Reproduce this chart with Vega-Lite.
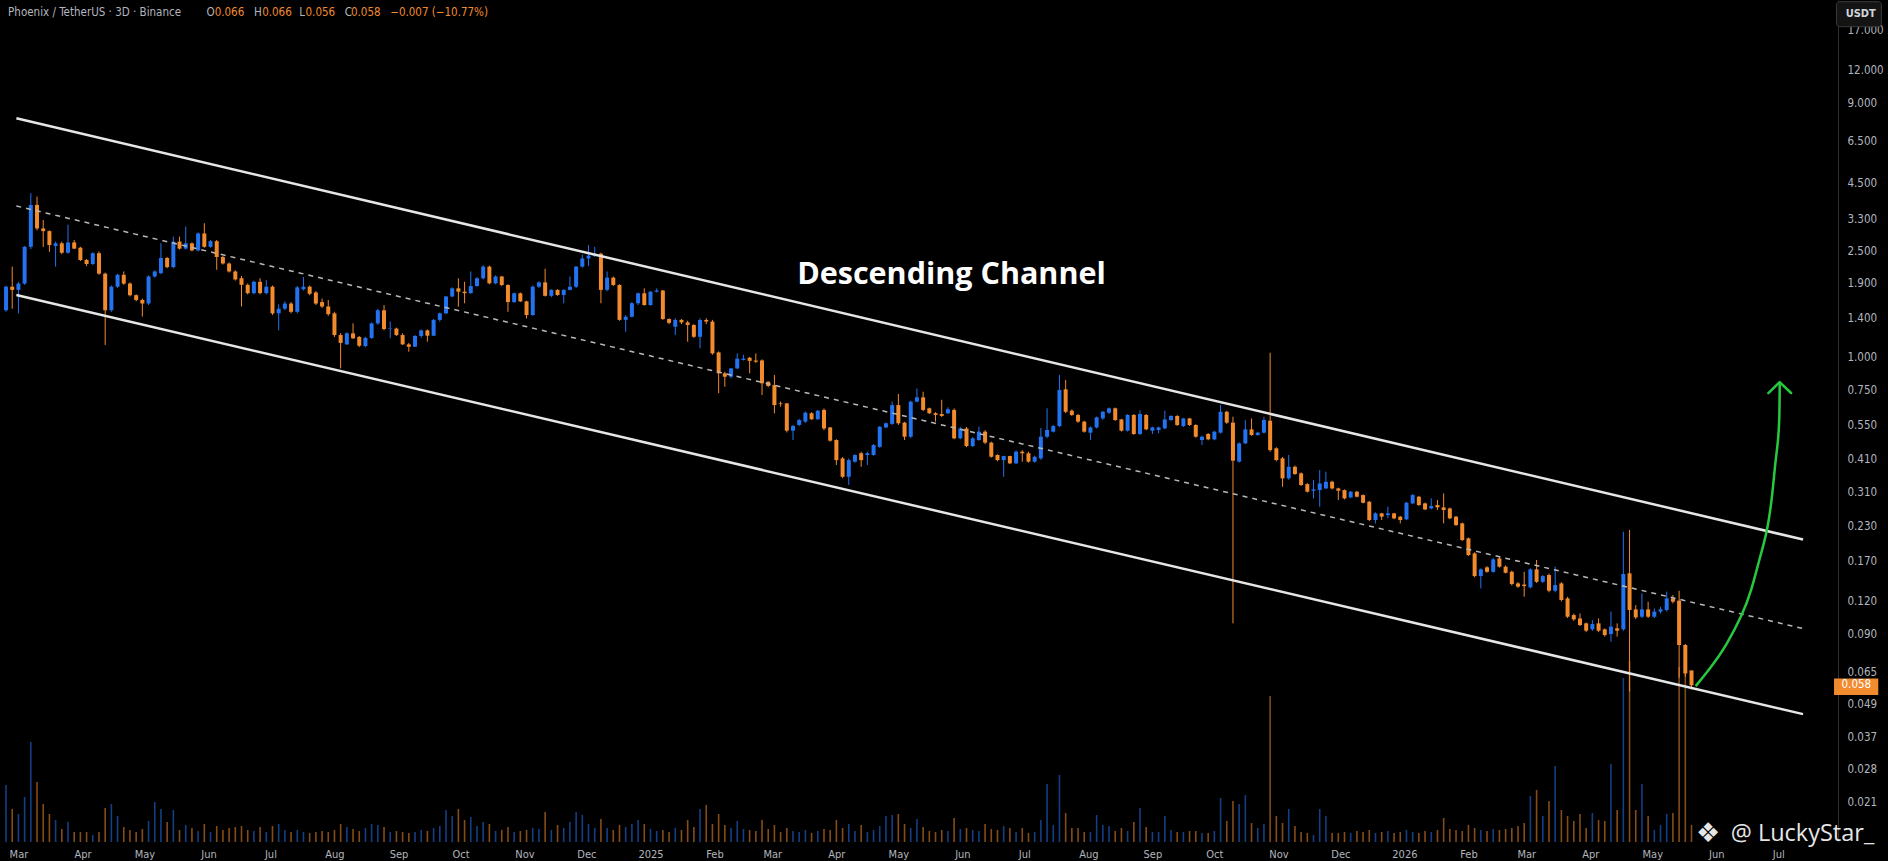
{
  "$schema": "https://vega.github.io/schema/vega-lite/v6.json",
  "width": 1838,
  "height": 842,
  "autosize": {"type": "none"},
  "padding": {"left": 0, "top": 0, "right": 50, "bottom": 19},
  "background": "#000000",
  "config": {
    "view": {"stroke": null},
    "style": {
      "hdr": {"font": "Liberation Sans Narrow, DejaVu Sans Condensed, sans-serif", "fontSize": 11.5, "align": "left", "baseline": "middle"}
    }
  },
  "datasets": {
    "candles": [
      {"d":"2024-02-24","o":1.50,"h":1.86,"l":1.48,"c":1.84,"v":57},
      {"d":"2024-02-27","o":1.84,"h":2.19,"l":1.52,"c":1.79,"v":33},
      {"d":"2024-03-01","o":1.79,"h":1.92,"l":1.46,"c":1.89,"v":28},
      {"d":"2024-03-04","o":1.89,"h":2.62,"l":1.87,"c":2.60,"v":45},
      {"d":"2024-03-07","o":2.60,"h":4.14,"l":2.55,"c":3.74,"v":100},
      {"d":"2024-03-10","o":3.74,"h":4.02,"l":3.00,"c":3.05,"v":60},
      {"d":"2024-03-13","o":3.05,"h":3.28,"l":2.60,"c":2.98,"v":38},
      {"d":"2024-03-16","o":2.98,"h":3.00,"l":2.49,"c":2.64,"v":28},
      {"d":"2024-03-19","o":2.62,"h":2.72,"l":2.19,"c":2.68,"v":22},
      {"d":"2024-03-22","o":2.68,"h":2.72,"l":2.44,"c":2.47,"v":13},
      {"d":"2024-03-25","o":2.47,"h":3.15,"l":2.45,"c":2.70,"v":20},
      {"d":"2024-03-28","o":2.70,"h":2.76,"l":2.55,"c":2.56,"v":10},
      {"d":"2024-03-31","o":2.58,"h":2.60,"l":2.30,"c":2.32,"v":10},
      {"d":"2024-04-03","o":2.32,"h":2.34,"l":2.20,"c":2.24,"v":10},
      {"d":"2024-04-06","o":2.24,"h":2.48,"l":2.22,"c":2.46,"v":7},
      {"d":"2024-04-09","o":2.46,"h":2.50,"l":2.04,"c":2.06,"v":10},
      {"d":"2024-04-12","o":2.06,"h":2.08,"l":1.11,"c":1.50,"v":34},
      {"d":"2024-04-15","o":1.50,"h":1.86,"l":1.48,"c":1.84,"v":38},
      {"d":"2024-04-18","o":1.84,"h":2.06,"l":1.82,"c":2.04,"v":26},
      {"d":"2024-04-21","o":2.04,"h":2.10,"l":1.87,"c":1.89,"v":15},
      {"d":"2024-04-24","o":1.89,"h":1.91,"l":1.69,"c":1.71,"v":12},
      {"d":"2024-04-27","o":1.71,"h":1.72,"l":1.62,"c":1.64,"v":10},
      {"d":"2024-04-30","o":1.64,"h":1.66,"l":1.42,"c":1.59,"v":13},
      {"d":"2024-05-03","o":1.59,"h":2.03,"l":1.57,"c":2.01,"v":21},
      {"d":"2024-05-06","o":2.01,"h":2.12,"l":1.99,"c":2.10,"v":40},
      {"d":"2024-05-09","o":2.07,"h":2.68,"l":2.05,"c":2.36,"v":33},
      {"d":"2024-05-12","o":2.36,"h":2.38,"l":2.16,"c":2.18,"v":20},
      {"d":"2024-05-15","o":2.18,"h":2.84,"l":2.16,"c":2.72,"v":32},
      {"d":"2024-05-18","o":2.72,"h":2.84,"l":2.54,"c":2.56,"v":12},
      {"d":"2024-05-21","o":2.56,"h":3.10,"l":2.54,"c":2.68,"v":17},
      {"d":"2024-05-24","o":2.68,"h":2.70,"l":2.50,"c":2.52,"v":14},
      {"d":"2024-05-27","o":2.52,"h":2.95,"l":2.50,"c":2.92,"v":11},
      {"d":"2024-05-30","o":2.92,"h":3.19,"l":2.58,"c":2.60,"v":18},
      {"d":"2024-06-02","o":2.60,"h":2.76,"l":2.58,"c":2.73,"v":10},
      {"d":"2024-06-05","o":2.73,"h":2.76,"l":2.13,"c":2.38,"v":16},
      {"d":"2024-06-08","o":2.38,"h":2.40,"l":2.23,"c":2.25,"v":12},
      {"d":"2024-06-11","o":2.25,"h":2.27,"l":2.08,"c":2.10,"v":14},
      {"d":"2024-06-14","o":2.10,"h":2.12,"l":1.94,"c":1.96,"v":15},
      {"d":"2024-06-17","o":1.98,"h":2.02,"l":1.55,"c":1.87,"v":16},
      {"d":"2024-06-20","o":1.87,"h":1.89,"l":1.72,"c":1.74,"v":12},
      {"d":"2024-06-23","o":1.74,"h":1.94,"l":1.72,"c":1.92,"v":11},
      {"d":"2024-06-26","o":1.92,"h":1.98,"l":1.72,"c":1.74,"v":15},
      {"d":"2024-06-29","o":1.74,"h":1.95,"l":1.72,"c":1.84,"v":10},
      {"d":"2024-07-02","o":1.84,"h":1.86,"l":1.44,"c":1.46,"v":16},
      {"d":"2024-07-05","o":1.46,"h":1.58,"l":1.26,"c":1.52,"v":18},
      {"d":"2024-07-08","o":1.52,"h":1.62,"l":1.50,"c":1.59,"v":12},
      {"d":"2024-07-11","o":1.59,"h":1.61,"l":1.46,"c":1.48,"v":10},
      {"d":"2024-07-14","o":1.48,"h":1.85,"l":1.46,"c":1.83,"v":12},
      {"d":"2024-07-17","o":1.80,"h":2.00,"l":1.78,"c":1.84,"v":10},
      {"d":"2024-07-20","o":1.84,"h":1.86,"l":1.71,"c":1.73,"v":9},
      {"d":"2024-07-23","o":1.75,"h":1.77,"l":1.57,"c":1.59,"v":10},
      {"d":"2024-07-26","o":1.61,"h":1.66,"l":1.53,"c":1.55,"v":11},
      {"d":"2024-07-29","o":1.55,"h":1.64,"l":1.43,"c":1.45,"v":10},
      {"d":"2024-08-01","o":1.46,"h":1.48,"l":1.19,"c":1.21,"v":12},
      {"d":"2024-08-04","o":1.21,"h":1.23,"l":0.906,"c":1.13,"v":18},
      {"d":"2024-08-07","o":1.116,"h":1.24,"l":1.11,"c":1.228,"v":15},
      {"d":"2024-08-10","o":1.228,"h":1.339,"l":1.17,"c":1.176,"v":13},
      {"d":"2024-08-13","o":1.19,"h":1.20,"l":1.09,"c":1.103,"v":11},
      {"d":"2024-08-16","o":1.10,"h":1.19,"l":1.09,"c":1.18,"v":14},
      {"d":"2024-08-19","o":1.18,"h":1.35,"l":1.17,"c":1.339,"v":18},
      {"d":"2024-08-22","o":1.339,"h":1.52,"l":1.32,"c":1.50,"v":17},
      {"d":"2024-08-25","o":1.50,"h":1.57,"l":1.26,"c":1.275,"v":15},
      {"d":"2024-08-28","o":1.275,"h":1.36,"l":1.176,"c":1.28,"v":10},
      {"d":"2024-08-31","o":1.28,"h":1.29,"l":1.20,"c":1.21,"v":11},
      {"d":"2024-09-03","o":1.21,"h":1.23,"l":1.11,"c":1.116,"v":10},
      {"d":"2024-09-06","o":1.116,"h":1.13,"l":1.047,"c":1.093,"v":9},
      {"d":"2024-09-09","o":1.093,"h":1.21,"l":1.09,"c":1.20,"v":10},
      {"d":"2024-09-12","o":1.20,"h":1.27,"l":1.18,"c":1.26,"v":12},
      {"d":"2024-09-15","o":1.26,"h":1.27,"l":1.142,"c":1.203,"v":11},
      {"d":"2024-09-18","o":1.203,"h":1.39,"l":1.20,"c":1.38,"v":14},
      {"d":"2024-09-21","o":1.38,"h":1.47,"l":1.36,"c":1.46,"v":16},
      {"d":"2024-09-24","o":1.46,"h":1.70,"l":1.45,"c":1.69,"v":32},
      {"d":"2024-09-27","o":1.69,"h":1.83,"l":1.68,"c":1.814,"v":26},
      {"d":"2024-09-30","o":1.814,"h":1.979,"l":1.547,"c":1.762,"v":33},
      {"d":"2024-10-03","o":1.762,"h":1.92,"l":1.594,"c":1.74,"v":22},
      {"d":"2024-10-06","o":1.74,"h":2.10,"l":1.73,"c":1.85,"v":25},
      {"d":"2024-10-09","o":1.85,"h":2.00,"l":1.84,"c":1.979,"v":16},
      {"d":"2024-10-12","o":1.979,"h":2.22,"l":1.96,"c":2.19,"v":20},
      {"d":"2024-10-15","o":2.19,"h":2.21,"l":1.88,"c":1.895,"v":18},
      {"d":"2024-10-18","o":1.895,"h":2.03,"l":1.88,"c":2.01,"v":11},
      {"d":"2024-10-21","o":2.01,"h":2.02,"l":1.85,"c":1.867,"v":12},
      {"d":"2024-10-24","o":1.867,"h":1.88,"l":1.48,"c":1.61,"v":15},
      {"d":"2024-10-27","o":1.61,"h":1.75,"l":1.60,"c":1.738,"v":10},
      {"d":"2024-10-30","o":1.738,"h":1.75,"l":1.61,"c":1.62,"v":11},
      {"d":"2024-11-02","o":1.62,"h":1.63,"l":1.398,"c":1.439,"v":12},
      {"d":"2024-11-05","o":1.439,"h":1.86,"l":1.43,"c":1.84,"v":14},
      {"d":"2024-11-08","o":1.84,"h":1.93,"l":1.82,"c":1.91,"v":13},
      {"d":"2024-11-11","o":1.91,"h":2.15,"l":1.69,"c":1.70,"v":30},
      {"d":"2024-11-14","o":1.70,"h":1.80,"l":1.68,"c":1.79,"v":12},
      {"d":"2024-11-17","o":1.79,"h":1.80,"l":1.70,"c":1.712,"v":17},
      {"d":"2024-11-20","o":1.712,"h":1.80,"l":1.594,"c":1.79,"v":14},
      {"d":"2024-11-23","o":1.79,"h":2.01,"l":1.78,"c":1.84,"v":20},
      {"d":"2024-11-26","o":1.84,"h":2.20,"l":1.82,"c":2.19,"v":30},
      {"d":"2024-11-29","o":2.19,"h":2.43,"l":2.17,"c":2.35,"v":27},
      {"d":"2024-12-02","o":2.35,"h":2.64,"l":2.20,"c":2.41,"v":18},
      {"d":"2024-12-05","o":2.41,"h":2.60,"l":2.38,"c":2.45,"v":14},
      {"d":"2024-12-08","o":2.45,"h":2.47,"l":1.594,"c":1.79,"v":23},
      {"d":"2024-12-11","o":1.79,"h":2.10,"l":1.77,"c":1.99,"v":14},
      {"d":"2024-12-14","o":1.99,"h":2.01,"l":1.85,"c":1.867,"v":12},
      {"d":"2024-12-17","o":1.867,"h":1.88,"l":1.37,"c":1.38,"v":17},
      {"d":"2024-12-20","o":1.38,"h":1.44,"l":1.245,"c":1.418,"v":15},
      {"d":"2024-12-23","o":1.418,"h":1.61,"l":1.41,"c":1.594,"v":18},
      {"d":"2024-12-26","o":1.594,"h":1.75,"l":1.57,"c":1.738,"v":22},
      {"d":"2024-12-29","o":1.738,"h":1.814,"l":1.56,"c":1.57,"v":18},
      {"d":"2025-01-01","o":1.57,"h":1.77,"l":1.56,"c":1.762,"v":13},
      {"d":"2025-01-04","o":1.762,"h":1.814,"l":1.75,"c":1.78,"v":11},
      {"d":"2025-01-07","o":1.78,"h":1.79,"l":1.38,"c":1.39,"v":12},
      {"d":"2025-01-10","o":1.39,"h":1.40,"l":1.33,"c":1.345,"v":10},
      {"d":"2025-01-13","o":1.30,"h":1.40,"l":1.21,"c":1.38,"v":14},
      {"d":"2025-01-16","o":1.38,"h":1.39,"l":1.33,"c":1.35,"v":12},
      {"d":"2025-01-19","o":1.35,"h":1.37,"l":1.142,"c":1.32,"v":22},
      {"d":"2025-01-22","o":1.32,"h":1.33,"l":1.18,"c":1.192,"v":15},
      {"d":"2025-01-25","o":1.192,"h":1.40,"l":1.078,"c":1.379,"v":33},
      {"d":"2025-01-28","o":1.379,"h":1.40,"l":1.33,"c":1.36,"v":37},
      {"d":"2025-01-31","o":1.36,"h":1.38,"l":1.02,"c":1.032,"v":18},
      {"d":"2025-02-03","o":1.041,"h":1.05,"l":0.73,"c":0.868,"v":28},
      {"d":"2025-02-06","o":0.868,"h":0.88,"l":0.773,"c":0.843,"v":17},
      {"d":"2025-02-09","o":0.843,"h":0.91,"l":0.83,"c":0.906,"v":14},
      {"d":"2025-02-12","o":0.906,"h":1.032,"l":0.90,"c":0.986,"v":21},
      {"d":"2025-02-15","o":0.975,"h":1.02,"l":0.97,"c":0.986,"v":13},
      {"d":"2025-02-18","o":0.994,"h":1.00,"l":0.868,"c":0.967,"v":12},
      {"d":"2025-02-21","o":0.97,"h":1.032,"l":0.95,"c":0.96,"v":11},
      {"d":"2025-02-24","o":0.971,"h":0.98,"l":0.719,"c":0.796,"v":22},
      {"d":"2025-02-27","o":0.807,"h":0.81,"l":0.77,"c":0.778,"v":13},
      {"d":"2025-03-02","o":0.784,"h":0.856,"l":0.614,"c":0.659,"v":17},
      {"d":"2025-03-05","o":0.669,"h":0.68,"l":0.65,"c":0.665,"v":10},
      {"d":"2025-03-08","o":0.669,"h":0.67,"l":0.52,"c":0.528,"v":14},
      {"d":"2025-03-11","o":0.528,"h":0.555,"l":0.487,"c":0.550,"v":11},
      {"d":"2025-03-14","o":0.555,"h":0.585,"l":0.55,"c":0.579,"v":10},
      {"d":"2025-03-17","o":0.571,"h":0.623,"l":0.565,"c":0.617,"v":12},
      {"d":"2025-03-20","o":0.614,"h":0.62,"l":0.58,"c":0.583,"v":9},
      {"d":"2025-03-23","o":0.583,"h":0.632,"l":0.58,"c":0.628,"v":11},
      {"d":"2025-03-26","o":0.632,"h":0.64,"l":0.53,"c":0.538,"v":13},
      {"d":"2025-03-29","o":0.543,"h":0.545,"l":0.48,"c":0.484,"v":12},
      {"d":"2025-04-01","o":0.487,"h":0.49,"l":0.392,"c":0.409,"v":22},
      {"d":"2025-04-04","o":0.415,"h":0.42,"l":0.35,"c":0.354,"v":14},
      {"d":"2025-04-07","o":0.354,"h":0.415,"l":0.3296,"c":0.409,"v":18},
      {"d":"2025-04-10","o":0.4035,"h":0.43,"l":0.40,"c":0.4275,"v":11},
      {"d":"2025-04-13","o":0.434,"h":0.44,"l":0.386,"c":0.409,"v":17},
      {"d":"2025-04-16","o":0.4275,"h":0.44,"l":0.392,"c":0.434,"v":10},
      {"d":"2025-04-19","o":0.4275,"h":0.47,"l":0.425,"c":0.466,"v":12},
      {"d":"2025-04-22","o":0.459,"h":0.55,"l":0.455,"c":0.546,"v":16},
      {"d":"2025-04-25","o":0.543,"h":0.567,"l":0.54,"c":0.563,"v":26},
      {"d":"2025-04-28","o":0.56,"h":0.679,"l":0.555,"c":0.659,"v":27},
      {"d":"2025-05-01","o":0.659,"h":0.726,"l":0.555,"c":0.563,"v":28},
      {"d":"2025-05-04","o":0.566,"h":0.57,"l":0.487,"c":0.501,"v":18},
      {"d":"2025-05-07","o":0.501,"h":0.685,"l":0.495,"c":0.679,"v":14},
      {"d":"2025-05-10","o":0.679,"h":0.762,"l":0.675,"c":0.705,"v":23},
      {"d":"2025-05-13","o":0.705,"h":0.740,"l":0.625,"c":0.632,"v":15},
      {"d":"2025-05-16","o":0.641,"h":0.645,"l":0.61,"c":0.614,"v":11},
      {"d":"2025-05-19","o":0.614,"h":0.62,"l":0.571,"c":0.605,"v":10},
      {"d":"2025-05-22","o":0.61,"h":0.69,"l":0.595,"c":0.60,"v":12},
      {"d":"2025-05-25","o":0.614,"h":0.646,"l":0.61,"c":0.636,"v":11},
      {"d":"2025-05-28","o":0.632,"h":0.64,"l":0.49,"c":0.494,"v":24},
      {"d":"2025-05-31","o":0.494,"h":0.545,"l":0.49,"c":0.538,"v":13},
      {"d":"2025-06-03","o":0.538,"h":0.545,"l":0.458,"c":0.462,"v":14},
      {"d":"2025-06-06","o":0.462,"h":0.50,"l":0.458,"c":0.494,"v":12},
      {"d":"2025-06-09","o":0.487,"h":0.546,"l":0.484,"c":0.5235,"v":11},
      {"d":"2025-06-12","o":0.5235,"h":0.53,"l":0.47,"c":0.476,"v":18},
      {"d":"2025-06-15","o":0.476,"h":0.48,"l":0.418,"c":0.421,"v":13},
      {"d":"2025-06-18","o":0.4275,"h":0.43,"l":0.405,"c":0.409,"v":12},
      {"d":"2025-06-21","o":0.409,"h":0.425,"l":0.354,"c":0.4237,"v":16},
      {"d":"2025-06-24","o":0.4237,"h":0.425,"l":0.395,"c":0.3977,"v":14},
      {"d":"2025-06-27","o":0.3977,"h":0.445,"l":0.395,"c":0.440,"v":10},
      {"d":"2025-06-30","o":0.440,"h":0.446,"l":0.4035,"c":0.434,"v":14},
      {"d":"2025-07-03","o":0.434,"h":0.44,"l":0.40,"c":0.4035,"v":9},
      {"d":"2025-07-06","o":0.4035,"h":0.425,"l":0.40,"c":0.421,"v":10},
      {"d":"2025-07-09","o":0.4153,"h":0.54,"l":0.41,"c":0.501,"v":22},
      {"d":"2025-07-12","o":0.501,"h":0.641,"l":0.495,"c":0.531,"v":58},
      {"d":"2025-07-15","o":0.5235,"h":0.555,"l":0.52,"c":0.5495,"v":17},
      {"d":"2025-07-18","o":0.5495,"h":0.856,"l":0.545,"c":0.751,"v":67},
      {"d":"2025-07-21","o":0.7555,"h":0.819,"l":0.615,"c":0.622,"v":29},
      {"d":"2025-07-24","o":0.628,"h":0.635,"l":0.60,"c":0.605,"v":14},
      {"d":"2025-07-27","o":0.605,"h":0.61,"l":0.565,"c":0.571,"v":14},
      {"d":"2025-07-30","o":0.571,"h":0.575,"l":0.519,"c":0.5235,"v":10},
      {"d":"2025-08-02","o":0.519,"h":0.548,"l":0.487,"c":0.543,"v":10},
      {"d":"2025-08-05","o":0.543,"h":0.597,"l":0.538,"c":0.5925,"v":27},
      {"d":"2025-08-08","o":0.587,"h":0.627,"l":0.58,"c":0.622,"v":17},
      {"d":"2025-08-11","o":0.617,"h":0.646,"l":0.61,"c":0.641,"v":16},
      {"d":"2025-08-14","o":0.641,"h":0.645,"l":0.575,"c":0.579,"v":11},
      {"d":"2025-08-17","o":0.582,"h":0.585,"l":0.524,"c":0.528,"v":14},
      {"d":"2025-08-20","o":0.528,"h":0.61,"l":0.524,"c":0.605,"v":11},
      {"d":"2025-08-23","o":0.605,"h":0.61,"l":0.509,"c":0.513,"v":20},
      {"d":"2025-08-26","o":0.513,"h":0.63,"l":0.509,"c":0.610,"v":34},
      {"d":"2025-08-29","o":0.605,"h":0.61,"l":0.53,"c":0.534,"v":15},
      {"d":"2025-09-01","o":0.528,"h":0.547,"l":0.513,"c":0.543,"v":10},
      {"d":"2025-09-04","o":0.531,"h":0.547,"l":0.515,"c":0.543,"v":10},
      {"d":"2025-09-07","o":0.5385,"h":0.628,"l":0.535,"c":0.582,"v":26},
      {"d":"2025-09-10","o":0.579,"h":0.604,"l":0.575,"c":0.5995,"v":12},
      {"d":"2025-09-13","o":0.5995,"h":0.604,"l":0.55,"c":0.5545,"v":10},
      {"d":"2025-09-16","o":0.5495,"h":0.59,"l":0.545,"c":0.587,"v":10},
      {"d":"2025-09-19","o":0.587,"h":0.59,"l":0.55,"c":0.5545,"v":11},
      {"d":"2025-09-22","o":0.5545,"h":0.558,"l":0.497,"c":0.501,"v":11},
      {"d":"2025-09-25","o":0.487,"h":0.505,"l":0.466,"c":0.501,"v":9},
      {"d":"2025-09-28","o":0.513,"h":0.517,"l":0.486,"c":0.4896,"v":9},
      {"d":"2025-10-01","o":0.4896,"h":0.527,"l":0.486,"c":0.5235,"v":11},
      {"d":"2025-10-04","o":0.519,"h":0.659,"l":0.515,"c":0.622,"v":44},
      {"d":"2025-10-07","o":0.622,"h":0.627,"l":0.56,"c":0.566,"v":21},
      {"d":"2025-10-10","o":0.566,"h":0.596,"l":0.0993,"c":0.407,"v":41},
      {"d":"2025-10-13","o":0.4035,"h":0.477,"l":0.40,"c":0.473,"v":38},
      {"d":"2025-10-16","o":0.473,"h":0.579,"l":0.47,"c":0.534,"v":47},
      {"d":"2025-10-19","o":0.534,"h":0.587,"l":0.505,"c":0.5085,"v":19},
      {"d":"2025-10-22","o":0.5085,"h":0.523,"l":0.505,"c":0.519,"v":14},
      {"d":"2025-10-25","o":0.519,"h":0.596,"l":0.515,"c":0.579,"v":18},
      {"d":"2025-10-28","o":0.5755,"h":1.038,"l":0.44,"c":0.446,"v":146},
      {"d":"2025-10-31","o":0.453,"h":0.457,"l":0.405,"c":0.4094,"v":26},
      {"d":"2025-11-03","o":0.4153,"h":0.42,"l":0.3246,"c":0.349,"v":19},
      {"d":"2025-11-06","o":0.349,"h":0.4275,"l":0.345,"c":0.386,"v":33},
      {"d":"2025-11-09","o":0.386,"h":0.39,"l":0.36,"c":0.3625,"v":16},
      {"d":"2025-11-12","o":0.3646,"h":0.368,"l":0.327,"c":0.3296,"v":10},
      {"d":"2025-11-15","o":0.332,"h":0.335,"l":0.309,"c":0.311,"v":9},
      {"d":"2025-11-18","o":0.3137,"h":0.344,"l":0.2935,"c":0.3174,"v":7},
      {"d":"2025-11-21","o":0.3155,"h":0.3753,"l":0.273,"c":0.334,"v":33},
      {"d":"2025-11-24","o":0.320,"h":0.37,"l":0.318,"c":0.339,"v":26},
      {"d":"2025-11-27","o":0.339,"h":0.342,"l":0.317,"c":0.320,"v":9},
      {"d":"2025-11-30","o":0.320,"h":0.322,"l":0.2892,"c":0.3137,"v":9},
      {"d":"2025-12-03","o":0.3155,"h":0.317,"l":0.291,"c":0.2935,"v":10},
      {"d":"2025-12-06","o":0.296,"h":0.313,"l":0.294,"c":0.311,"v":9},
      {"d":"2025-12-09","o":0.311,"h":0.313,"l":0.296,"c":0.2978,"v":11},
      {"d":"2025-12-12","o":0.302,"h":0.304,"l":0.281,"c":0.2826,"v":10},
      {"d":"2025-12-15","o":0.285,"h":0.287,"l":0.241,"c":0.2433,"v":12},
      {"d":"2025-12-18","o":0.2433,"h":0.26,"l":0.2363,"c":0.2577,"v":9},
      {"d":"2025-12-21","o":0.2577,"h":0.259,"l":0.2433,"c":0.2504,"v":10},
      {"d":"2025-12-24","o":0.254,"h":0.273,"l":0.2468,"c":0.2577,"v":11},
      {"d":"2025-12-27","o":0.2577,"h":0.259,"l":0.245,"c":0.2468,"v":9},
      {"d":"2025-12-30","o":0.2504,"h":0.252,"l":0.2363,"c":0.2433,"v":10},
      {"d":"2026-01-02","o":0.2447,"h":0.285,"l":0.243,"c":0.2826,"v":12},
      {"d":"2026-01-05","o":0.281,"h":0.305,"l":0.279,"c":0.302,"v":10},
      {"d":"2026-01-08","o":0.2978,"h":0.30,"l":0.275,"c":0.277,"v":9},
      {"d":"2026-01-11","o":0.281,"h":0.283,"l":0.265,"c":0.2668,"v":11},
      {"d":"2026-01-14","o":0.269,"h":0.2935,"l":0.267,"c":0.2746,"v":10},
      {"d":"2026-01-17","o":0.277,"h":0.2892,"l":0.2653,"c":0.2715,"v":12},
      {"d":"2026-01-20","o":0.2715,"h":0.3066,"l":0.2363,"c":0.2653,"v":24},
      {"d":"2026-01-23","o":0.269,"h":0.271,"l":0.245,"c":0.2468,"v":13},
      {"d":"2026-01-26","o":0.2504,"h":0.252,"l":0.231,"c":0.2329,"v":12},
      {"d":"2026-01-29","o":0.2363,"h":0.238,"l":0.203,"c":0.2045,"v":11},
      {"d":"2026-02-01","o":0.2075,"h":0.209,"l":0.178,"c":0.1795,"v":17},
      {"d":"2026-02-04","o":0.1822,"h":0.184,"l":0.148,"c":0.1496,"v":14},
      {"d":"2026-02-07","o":0.1496,"h":0.16,"l":0.1345,"c":0.1586,"v":12},
      {"d":"2026-02-10","o":0.1614,"h":0.163,"l":0.154,"c":0.1553,"v":11},
      {"d":"2026-02-13","o":0.1553,"h":0.175,"l":0.154,"c":0.1729,"v":13},
      {"d":"2026-02-16","o":0.1744,"h":0.178,"l":0.161,"c":0.1623,"v":12},
      {"d":"2026-02-19","o":0.1623,"h":0.164,"l":0.153,"c":0.154,"v":13},
      {"d":"2026-02-22","o":0.1553,"h":0.157,"l":0.138,"c":0.1396,"v":14},
      {"d":"2026-02-25","o":0.1404,"h":0.142,"l":0.135,"c":0.1365,"v":16},
      {"d":"2026-02-28","o":0.139,"h":0.1553,"l":0.1251,"c":0.1372,"v":19},
      {"d":"2026-03-03","o":0.1357,"h":0.16,"l":0.1345,"c":0.1586,"v":46},
      {"d":"2026-03-06","o":0.1586,"h":0.172,"l":0.141,"c":0.1424,"v":52},
      {"d":"2026-03-09","o":0.1424,"h":0.151,"l":0.141,"c":0.1496,"v":26},
      {"d":"2026-03-12","o":0.151,"h":0.153,"l":0.130,"c":0.1318,"v":41},
      {"d":"2026-03-15","o":0.1318,"h":0.1623,"l":0.130,"c":0.1384,"v":76},
      {"d":"2026-03-18","o":0.1404,"h":0.142,"l":0.120,"c":0.1216,"v":32},
      {"d":"2026-03-21","o":0.1233,"h":0.125,"l":0.104,"c":0.1052,"v":26},
      {"d":"2026-03-24","o":0.1067,"h":0.108,"l":0.1015,"c":0.1028,"v":21},
      {"d":"2026-03-27","o":0.1036,"h":0.1083,"l":0.097,"c":0.0979,"v":28},
      {"d":"2026-03-30","o":0.0993,"h":0.100,"l":0.092,"c":0.0932,"v":14},
      {"d":"2026-04-02","o":0.0943,"h":0.1022,"l":0.093,"c":0.0987,"v":29},
      {"d":"2026-04-05","o":0.0993,"h":0.1036,"l":0.092,"c":0.0932,"v":22},
      {"d":"2026-04-08","o":0.0943,"h":0.095,"l":0.0885,"c":0.0897,"v":21},
      {"d":"2026-04-11","o":0.0905,"h":0.1099,"l":0.0847,"c":0.0965,"v":78},
      {"d":"2026-04-14","o":0.0951,"h":0.0993,"l":0.0885,"c":0.0932,"v":32},
      {"d":"2026-04-17","o":0.0943,"h":0.2198,"l":0.093,"c":0.1523,"v":164},
      {"d":"2026-04-20","o":0.1532,"h":0.223,"l":0.055,"c":0.1115,"v":181},
      {"d":"2026-04-23","o":0.1121,"h":0.1164,"l":0.103,"c":0.1046,"v":32},
      {"d":"2026-04-26","o":0.1052,"h":0.1288,"l":0.104,"c":0.1121,"v":58},
      {"d":"2026-04-29","o":0.1121,"h":0.1198,"l":0.104,"c":0.1052,"v":26},
      {"d":"2026-05-02","o":0.1052,"h":0.113,"l":0.104,"c":0.1099,"v":12},
      {"d":"2026-05-05","o":0.1099,"h":0.1147,"l":0.108,"c":0.1121,"v":17},
      {"d":"2026-05-08","o":0.1115,"h":0.1307,"l":0.110,"c":0.1233,"v":28},
      {"d":"2026-05-11","o":0.1233,"h":0.1269,"l":0.118,"c":0.1198,"v":29},
      {"d":"2026-05-14","o":0.1209,"h":0.1318,"l":0.062,"c":0.0823,"v":175},
      {"d":"2026-05-17","o":0.0823,"h":0.083,"l":0.0625,"c":0.0643,"v":170},
      {"d":"2026-05-20","o":0.066,"h":0.066,"l":0.056,"c":0.058,"v":17}
    ],
    "bands": [
      {"k":"upper","d":"2024-02-29","p":7.93},
      {"k":"upper","d":"2026-07-13","p":0.2054},
      {"k":"lower","d":"2024-02-29","p":1.712},
      {"k":"lower","d":"2026-07-13","p":0.0452}
    ],
    "mid": [
      {"d":"2024-02-29","p":3.705},
      {"d":"2026-07-13","p":0.0949}
    ],
    "curve": [
      {"d":"2026-05-22T00:00:00Z","p":0.0576},
      {"d":"2026-05-29T05:00:00Z","p":0.0674},
      {"d":"2026-06-05T12:00:00Z","p":0.0809},
      {"d":"2026-06-14T02:00:00Z","p":0.1086},
      {"d":"2026-06-18T00:00:00Z","p":0.1326},
      {"d":"2026-06-21T10:00:00Z","p":0.1675},
      {"d":"2026-06-23T19:00:00Z","p":0.1958},
      {"d":"2026-06-25T17:00:00Z","p":0.2230},
      {"d":"2026-06-28T02:00:00Z","p":0.2970},
      {"d":"2026-06-29T12:00:00Z","p":0.3988},
      {"d":"2026-07-01T00:00:00Z","p":0.4867},
      {"d":"2026-07-01T14:00:00Z","p":0.5791},
      {"d":"2026-07-01T17:00:00Z","p":0.8050}
    ],
    "head": [
      {"d":"2026-06-26T05:00:00Z","p":0.7318},
      {"d":"2026-07-01T16:00:00Z","p":0.8050},
      {"d":"2026-07-07T05:00:00Z","p":0.7318}
    ]
  },
  "layer": [
    {
      "data": {"name": "candles"},
      "mark": {"type": "bar", "size": 1.6, "opacity": 0.55},
      "encoding": {
        "x": {
          "field": "d",
          "type": "temporal",
          "scale": {
            "type": "utc",
            "domain": [
              {"year": 2024, "month": 2, "date": 23, "hours": 12, "utc": true},
              {"year": 2026, "month": 7, "date": 27, "hours": 12, "utc": true}
            ]
          },
          "axis": {
            "title": null,
            "grid": false,
            "ticks": false,
            "domain": false,
            "labelColor": "#b2b5be",
            "labelFont": "Liberation Sans Narrow, DejaVu Sans Condensed, sans-serif",
            "labelFontSize": 11,
            "labelPadding": 6,
            "labelFlush": false,
            "labelOverlap": false,
            "tickCount": {"interval": "month", "step": 1},
            "labelExpr": "utcFormat(datum.value, '%m') == '01' ? utcFormat(datum.value, '%Y') : utcFormat(datum.value, '%b')"
          }
        },
        "y": {"field": "v", "type": "quantitative", "scale": {"domain": [0, 842]}, "axis": null},
        "color": {"condition": {"test": "datum.c < datum.o", "value": "#f28a2e"}, "value": "#2372f0"}
      }
    },
    {
      "layer": [
        {
          "data": {"name": "candles"},
          "mark": {"type": "rule", "strokeWidth": 1},
          "encoding": {
            "x": {"field": "d", "type": "temporal"},
            "y": {
              "field": "l",
              "type": "quantitative",
              "scale": {"type": "log", "domain": [0.01491, 22.11], "nice": false},
              "axis": {
                "orient": "right",
                "title": null,
                "values": [17, 12, 9, 6.5, 4.5, 3.3, 2.5, 1.9, 1.4, 1, 0.75, 0.55, 0.41, 0.31, 0.23, 0.17, 0.12, 0.09, 0.065, 0.049, 0.037, 0.028, 0.021],
                "format": ".3f",
                "grid": false,
                "ticks": false,
                "domain": true,
                "domainColor": "#2e2e2e",
                "labelColor": "#b2b5be",
                "labelFont": "Liberation Sans Narrow, DejaVu Sans Condensed, sans-serif",
                "labelFontSize": 11.5,
                "labelPadding": 9,
                "labelAlign": "left",
                "labelBaseline": "middle"
              }
            },
            "y2": {"field": "h"},
            "color": {"condition": {"test": "datum.c < datum.o", "value": "#f28a2e"}, "value": "#2372f0"}
          }
        },
        {
          "data": {"name": "candles"},
          "mark": {"type": "bar", "size": 4},
          "encoding": {
            "x": {"field": "d", "type": "temporal"},
            "y": {"field": "o", "type": "quantitative"},
            "y2": {"field": "c"},
            "color": {"condition": {"test": "datum.c < datum.o", "value": "#f28a2e"}, "value": "#2372f0"}
          }
        },
        {
          "data": {"name": "bands"},
          "mark": {"type": "line", "color": "#e6e6e6", "strokeWidth": 2.5},
          "encoding": {
            "x": {"field": "d", "type": "temporal"},
            "y": {"field": "p", "type": "quantitative"},
            "detail": {"field": "k"}
          }
        },
        {
          "data": {"name": "mid"},
          "mark": {"type": "line", "color": "#b8b8b8", "strokeWidth": 1.5, "strokeDash": [5, 5]},
          "encoding": {
            "x": {"field": "d", "type": "temporal"},
            "y": {"field": "p", "type": "quantitative"}
          }
        },
        {
          "data": {"name": "curve"},
          "mark": {"type": "line", "color": "#27c93f", "strokeWidth": 2.5, "interpolate": "basis"},
          "encoding": {
            "x": {"field": "d", "type": "temporal"},
            "y": {"field": "p", "type": "quantitative"}
          }
        },
        {
          "data": {"name": "head"},
          "mark": {"type": "line", "color": "#27c93f", "strokeWidth": 2.5, "strokeCap": "round", "strokeJoin": "round"},
          "encoding": {
            "x": {"field": "d", "type": "temporal"},
            "y": {"field": "p", "type": "quantitative"}
          }
        },
        {
          "data": {"values": [{}]},
          "mark": {"type": "text", "font": "Open Sans", "fontWeight": "bold", "fontSize": 30.5, "color": "#ffffff", "align": "left", "baseline": "middle"},
          "encoding": {
            "x": {"datum": {"year": 2025, "month": 3, "date": 13, "utc": true}, "type": "temporal"},
            "y": {"datum": 2.045, "type": "quantitative"},
            "text": {"value": "Descending Channel"}
          }
        },
        {
          "data": {"values": [{}]},
          "mark": {"type": "text", "style": "hdr", "color": "#b2b5be"},
          "encoding": {
            "x": {"datum": {"year": 2024, "month": 2, "date": 25, "utc": true}, "type": "temporal"},
            "y": {"datum": 19.8, "type": "quantitative"},
            "text": {"value": "Phoenix / TetherUS · 3D · Binance"}
          }
        },
        {
          "data": {"values": [{}]},
          "mark": {"type": "text", "style": "hdr", "color": "#b2b5be"},
          "encoding": {
            "x": {"datum": {"year": 2024, "month": 5, "date": 31, "utc": true}, "type": "temporal"},
            "y": {"datum": 19.8, "type": "quantitative"},
            "text": {"value": "O"}
          }
        },
        {
          "data": {"values": [{}]},
          "mark": {"type": "text", "style": "hdr", "color": "#f28a2e"},
          "encoding": {
            "x": {"datum": {"year": 2024, "month": 6, "date": 4, "utc": true}, "type": "temporal"},
            "y": {"datum": 19.8, "type": "quantitative"},
            "text": {"value": "0.066"}
          }
        },
        {
          "data": {"values": [{}]},
          "mark": {"type": "text", "style": "hdr", "color": "#b2b5be"},
          "encoding": {
            "x": {"datum": {"year": 2024, "month": 6, "date": 23, "utc": true}, "type": "temporal"},
            "y": {"datum": 19.8, "type": "quantitative"},
            "text": {"value": "H"}
          }
        },
        {
          "data": {"values": [{}]},
          "mark": {"type": "text", "style": "hdr", "color": "#f28a2e"},
          "encoding": {
            "x": {"datum": {"year": 2024, "month": 6, "date": 27, "utc": true}, "type": "temporal"},
            "y": {"datum": 19.8, "type": "quantitative"},
            "text": {"value": "0.066"}
          }
        },
        {
          "data": {"values": [{}]},
          "mark": {"type": "text", "style": "hdr", "color": "#b2b5be"},
          "encoding": {
            "x": {"datum": {"year": 2024, "month": 7, "date": 15, "utc": true}, "type": "temporal"},
            "y": {"datum": 19.8, "type": "quantitative"},
            "text": {"value": "L"}
          }
        },
        {
          "data": {"values": [{}]},
          "mark": {"type": "text", "style": "hdr", "color": "#f28a2e"},
          "encoding": {
            "x": {"datum": {"year": 2024, "month": 7, "date": 18, "utc": true}, "type": "temporal"},
            "y": {"datum": 19.8, "type": "quantitative"},
            "text": {"value": "0.056"}
          }
        },
        {
          "data": {"values": [{}]},
          "mark": {"type": "text", "style": "hdr", "color": "#b2b5be"},
          "encoding": {
            "x": {"datum": {"year": 2024, "month": 8, "date": 6, "utc": true}, "type": "temporal"},
            "y": {"datum": 19.8, "type": "quantitative"},
            "text": {"value": "C"}
          }
        },
        {
          "data": {"values": [{}]},
          "mark": {"type": "text", "style": "hdr", "color": "#f28a2e"},
          "encoding": {
            "x": {"datum": {"year": 2024, "month": 8, "date": 9, "utc": true}, "type": "temporal"},
            "y": {"datum": 19.8, "type": "quantitative"},
            "text": {"value": "0.058"}
          }
        },
        {
          "data": {"values": [{}]},
          "mark": {"type": "text", "style": "hdr", "color": "#f28a2e"},
          "encoding": {
            "x": {"datum": {"year": 2024, "month": 8, "date": 28, "utc": true}, "type": "temporal"},
            "y": {"datum": 19.8, "type": "quantitative"},
            "text": {"value": "−0.007 (−10.77%)"}
          }
        },
        {
          "data": {"values": [{}]},
          "mark": {"type": "rect", "fill": "#141414", "stroke": "#3a3a3a", "strokeWidth": 1, "cornerRadius": 3},
          "encoding": {
            "x": {"datum": {"year": 2026, "month": 7, "date": 29, "hours": 5, "utc": true}, "type": "temporal"},
            "x2": {"datum": {"year": 2026, "month": 8, "date": 19, "hours": 22, "utc": true}},
            "y": {"datum": 21.79, "type": "quantitative"},
            "y2": {"datum": 17.54}
          }
        },
        {
          "data": {"values": [{}]},
          "mark": {"type": "text", "font": "Liberation Sans Narrow, DejaVu Sans Condensed, sans-serif", "fontSize": 11, "fontWeight": "bold", "color": "#d1d4dc", "align": "center", "baseline": "middle"},
          "encoding": {
            "x": {"datum": {"year": 2026, "month": 8, "date": 9, "hours": 22, "utc": true}, "type": "temporal"},
            "y": {"datum": 19.58, "type": "quantitative"},
            "text": {"value": "USDT"}
          }
        },
        {
          "data": {"values": [{}]},
          "mark": {"type": "rect", "fill": "#f28a2e"},
          "encoding": {
            "x": {"datum": {"year": 2026, "month": 7, "date": 28, "utc": true}, "type": "temporal"},
            "x2": {"datum": {"year": 2026, "month": 8, "date": 18, "hours": 10, "utc": true}},
            "y": {"datum": 0.0616, "type": "quantitative"},
            "y2": {"datum": 0.0533}
          }
        },
        {
          "data": {"values": [{}]},
          "mark": {"type": "text", "font": "Liberation Sans Narrow, DejaVu Sans Condensed, sans-serif", "fontSize": 11.5, "color": "#ffffff", "align": "center", "baseline": "middle"},
          "encoding": {
            "x": {"datum": {"year": 2026, "month": 8, "date": 7, "hours": 19, "utc": true}, "type": "temporal"},
            "y": {"datum": 0.058, "type": "quantitative"},
            "text": {"value": "0.058"}
          }
        },
        {
          "data": {"values": [{}]},
          "mark": {"type": "text", "font": "DejaVu Sans", "fontSize": 27, "color": "#e6e6e6", "align": "center", "baseline": "middle"},
          "encoding": {
            "x": {"datum": {"year": 2026, "month": 5, "date": 28, "utc": true}, "type": "temporal"},
            "y": {"datum": 0.01597, "type": "quantitative"},
            "text": {"value": "❖"}
          }
        },
        {
          "data": {"values": [{}]},
          "mark": {"type": "text", "font": "Open Sans", "fontSize": 23.5, "color": "#e6e6e6", "align": "left", "baseline": "middle"},
          "encoding": {
            "x": {"datum": {"year": 2026, "month": 6, "date": 8, "utc": true}, "type": "temporal"},
            "y": {"datum": 0.01597, "type": "quantitative"},
            "text": {"value": "@ LuckyStar_"}
          }
        }
      ]
    }
  ],
  "resolve": {"scale": {"y": "independent"}}
}
